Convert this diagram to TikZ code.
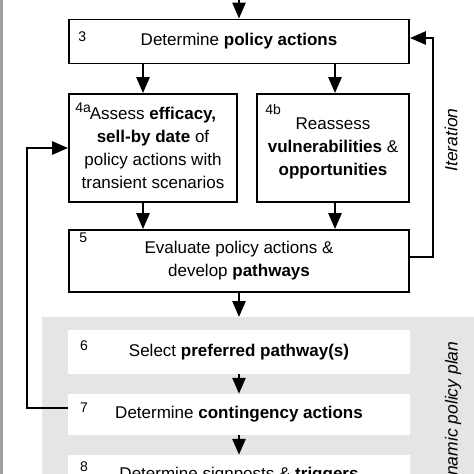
\documentclass[tikz,border=0pt]{standalone}
\usepackage{fontspec}
\setmainfont{Liberation Sans}
\usepackage{tikz}
\usetikzlibrary{arrows.meta,positioning}
\colorlet{planbg}{gray!20}
\colorlet{edgegray}{gray!75}

\begin{document}
\begin{tikzpicture}[
  x=1pt, y=-1pt,
  >={Triangle[length=16pt,width=13pt]},
  txt/.style = {font=\fontsize{17}{23}\selectfont},
  stepbox/.style = {txt, draw, line width=1.8pt, align=center, inner sep=2pt},
  planbox/.style = {txt, fill=white, align=center, inner sep=2pt},
  num/.style = {font=\fontsize{14}{16}\selectfont, inner sep=0pt},
  flow/.style = {->, line width=2.6pt},
  side/.style = {font=\fontsize{17.5}{20}\selectfont\itshape, rotate=90}
  ]
  \path[use as bounding box, clip] (0,0) rectangle (474,474);
  \draw[edgegray, line width=3pt] (1.5,0) -- (1.5,474);
  % Plan area
  \node[fill=planbg, minimum width=440pt, minimum height=170pt, anchor=north west] (planarea) at (42,317) {};
  \node[side, anchor=east] (plan) at (453,338) {Dynamic policy plan};
  % Steps
  \node[stepbox, minimum width=340pt, minimum height=44pt] (s3) at (239,41.5) {Determine \textbf{policy actions}};
  \node[stepbox, minimum width=168pt, minimum height=108pt] (s4a) at (153,148)
    {Assess \textbf{efficacy,}\\ \textbf{sell-by date} of\\ policy actions with\\ transient scenarios};
  \node[stepbox, minimum width=152pt, minimum height=108pt] (s4b) at (333,148)
    {Reassess\\ \textbf{vulnerabilities} \&\\ \textbf{opportunities}};
  \node[stepbox, minimum width=340pt, minimum height=62pt] (s5) at (239,261)
    {Evaluate policy actions \&\\ develop \textbf{pathways}};
  \node[planbox, minimum width=342pt, minimum height=44pt] (s6) at (239,352) {Select \textbf{preferred pathway(s)}};
  \node[planbox, minimum width=342pt, minimum height=41pt] (s7) at (239,414.5) {Determine \textbf{contingency actions}};
  \node[planbox, minimum width=342pt, minimum height=40pt] (s8) at (239,475) {Determine signposts \& \textbf{triggers}};
  % Step numbers
  \node[num, below right=13pt and 10pt of s3.north west] (n3) {3};
  \node[num, below right=10pt and 7pt of s4a.north west] (n4a) {4a};
  \node[num, below right=11pt and 9pt of s4b.north west] (n4b) {4b};
  \node[num, below right=4pt and 11pt of s5.north west] (n5) {5};
  \node[num, below right=11pt and 12pt of s6.north west] (n6) {6};
  \node[num, below right=9pt and 12pt of s7.north west] (n7) {7};
  \node[num, below right=7pt and 12pt of s8.north west] (n8) {8};
  % Arrows down
  \coordinate (entry) at (239,0);
  \draw[flow] (entry) -- (s3.north);
  \draw[flow] ([xshift=-10pt]s4a.north |- s3.south) -- ([xshift=-10pt]s4a.north);
  \draw[flow] ([xshift=2pt]s4b.north |- s3.south) -- ([xshift=2pt]s4b.north);
  \draw[flow] ([xshift=-10pt]s4a.south) -- ([xshift=-10pt]s4a.south |- s5.north);
  \draw[flow] ([xshift=2pt]s4b.south) -- ([xshift=2pt]s4b.south |- s5.north);
  \draw[flow] (s5.south) -- (s5.south |- planarea.north);
  \foreach \a/\b in {s6/s7, s7/s8}
    \draw[flow] (\a.south) -- (\b.north);
  % Feedback
  \draw[flow] ([yshift=6.5pt]s7.west) -- ++(-41,0) |- (s4a.west);
  \draw[flow] ([yshift=4pt]s5.east) -- ++(23,0) |- ([yshift=3.5pt]s3.east);
  \node[side] (iter) at (451,140) {Iteration};
\end{tikzpicture}
\end{document}
